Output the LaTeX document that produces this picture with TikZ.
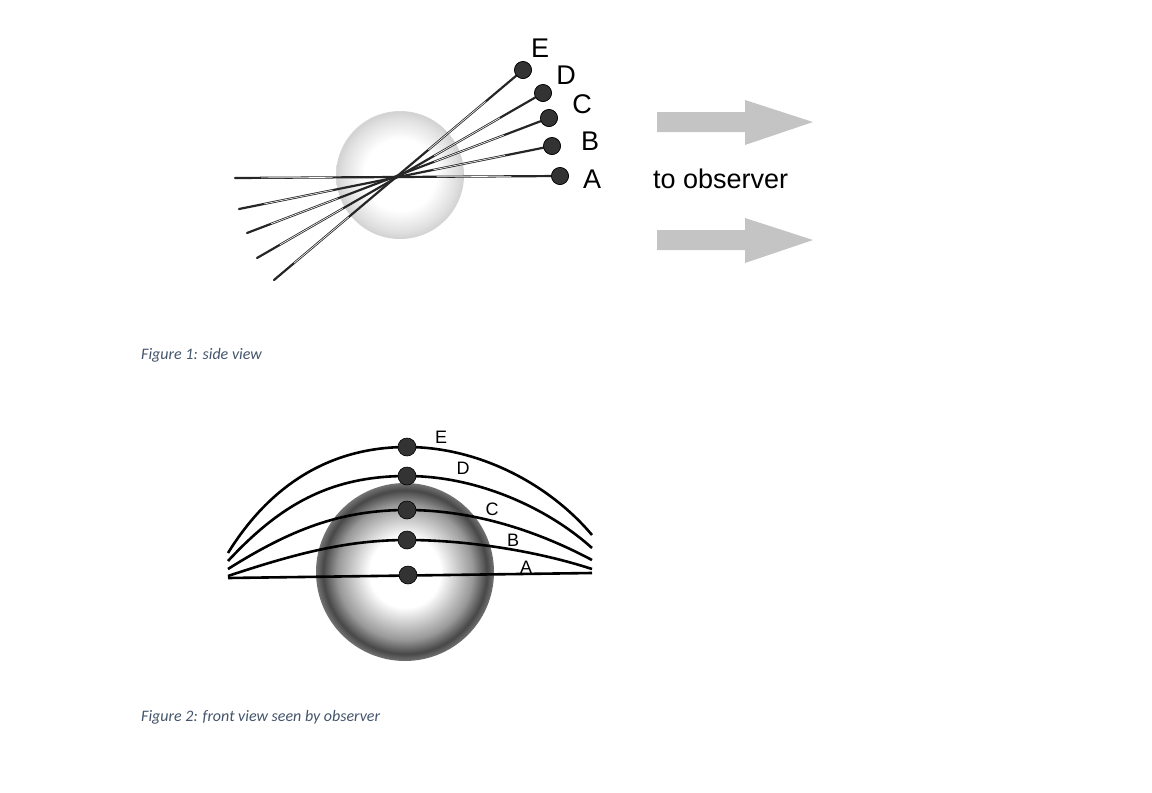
\documentclass[tikz,border=0pt]{standalone}
\usepackage{fontspec}
\usetikzlibrary{calc}
\setmainfont{Liberation Sans}
\newfontfamily\capfont{Carlito}
\definecolor{capcol}{HTML}{44546A}
\definecolor{arrgray}{HTML}{C4C4C4}
\pgfdeclareradialshading{sphA}{\pgfpoint{0bp}{0bp}}{color(0bp)=(white); color(14bp)=(white); color(22bp)=(black!12); color(25bp)=(black!18); color(26bp)=(white); color(50bp)=(white)}
\pgfdeclareradialshading{sphB}{\pgfpoint{0bp}{0bp}}{color(0bp)=(white); color(10bp)=(white); color(19bp)=(black!40); color(23bp)=(black!72); color(25bp)=(black!55); color(50bp)=(white)}
\tikzset{
  rod/.style={line width=2.2pt,black!85,line cap=round},
  rodin/.style={line width=0.6pt,white},
  ball/.style={circle,fill=black!80,draw=black,line width=0.6pt,minimum size=17pt,inner sep=0pt},
  ballb/.style={circle,fill=black!80,draw=black,line width=0.6pt,minimum size=18pt,inner sep=0pt},
  lab/.style={font=\fontsize{27}{27}\selectfont,inner sep=0pt},
  labb/.style={font=\fontsize{18}{18}\selectfont,inner sep=0pt},
  arc/.style={line width=2.6pt,black},
  captext/.style={font=\capfont\itshape\fontsize{16}{16}\selectfont,text=capcol,anchor=west,inner sep=0pt},
  bigarrow/.style={fill=arrgray,draw=none}
}
\begin{document}
\begin{tikzpicture}[x=1pt,y=-1pt]
\useasboundingbox (0,0) rectangle (1152,793);
% ---------- Figure 1 ----------
\path[shading=sphA] (400,175) circle (64);
\coordinate (O) at (400,178);
\node[ball] (A) at (560,176) {};
\node[ball] (B) at (552,146) {};
\node[ball] (C) at (549,118) {};
\node[ball] (D) at (543,93) {};
\node[ball] (E) at (523,70) {};
\coordinate (a) at (235,178);
\coordinate (b) at (239,209);
\coordinate (c) at (247,233);
\coordinate (d) at (257,258);
\coordinate (e) at (274,280);
\foreach \s/\t in {a/A,b/B,c/C,d/D,e/E}{
  \draw[rod] (\s) -- (\t);
  \draw[rodin] ($(\s)!0.08!(\t)$) -- ($(\s)!0.3!(\t)$);
  \draw[rodin] ($(\s)!0.62!(\t)$) -- ($(\s)!0.85!(\t)$);
}
\foreach \n in {A,B,C,D,E} \node[ball] at (\n) {};
\node[lab] (lE) at (540,48) {E};
\node[lab] (lD) at (566,75) {D};
\node[lab] (lC) at (582,104) {C};
\node[lab] (lB) at (590,141) {B};
\node[lab] (lA) at (592,179) {A};
\node[lab,anchor=west] (obs) at (653,179) {to observer};
\path[bigarrow] (657,112) -- (745,112) -- (745,100) -- (813,122) -- (745,145) -- (745,132) -- (657,132) -- cycle;
\path[bigarrow] (657,230) -- (745,230) -- (745,218) -- (813,240) -- (745,263) -- (745,250) -- (657,250) -- cycle;
\node[captext] (cap1) at (141,355) {Figure 1: side view};
% ---------- Figure 2 ----------
\path[shading=sphB] (405,572) circle (89);
\coordinate (LA) at (228,578); \coordinate (RA) at (592,573);
\coordinate (LB) at (228,576); \coordinate (RB) at (592,569);
\coordinate (LC) at (228,569); \coordinate (RC) at (592,560);
\coordinate (LD) at (228,561); \coordinate (RD) at (592,548);
\coordinate (LE) at (228,553); \coordinate (RE) at (592,535);
\draw[arc] (LA) -- (RA);
\draw[arc] (LB) .. controls (300,552) and (350,540) .. (407,540) .. controls (470,540) and (540,552) .. (RB);
\draw[arc] (LC) .. controls (290,530) and (340,510) .. (407,510) .. controls (480,510) and (545,535) .. (RC);
\draw[arc] (LD) .. controls (280,505) and (330,476) .. (407,476) .. controls (480,476) and (550,510) .. (RD);
\draw[arc] (LE) .. controls (270,485) and (330,447) .. (407,447) .. controls (480,447) and (550,485) .. (RE);
\node[ballb] (fA) at (408,575) {};
\node[ballb] (fB) at (407,540) {};
\node[ballb] (fC) at (407,510) {};
\node[ballb] (fD) at (407,476) {};
\node[ballb] (fE) at (407,447) {};
\node[labb] (gE) at (441,437) {E};
\node[labb] (gD) at (463,468) {D};
\node[labb] (gC) at (492,509) {C};
\node[labb] (gB) at (513,540) {B};
\node[labb] (gA) at (526,567) {A};
\node[captext] (cap2) at (141,717) {Figure 2: front view seen by observer};
\end{tikzpicture}
\end{document}
